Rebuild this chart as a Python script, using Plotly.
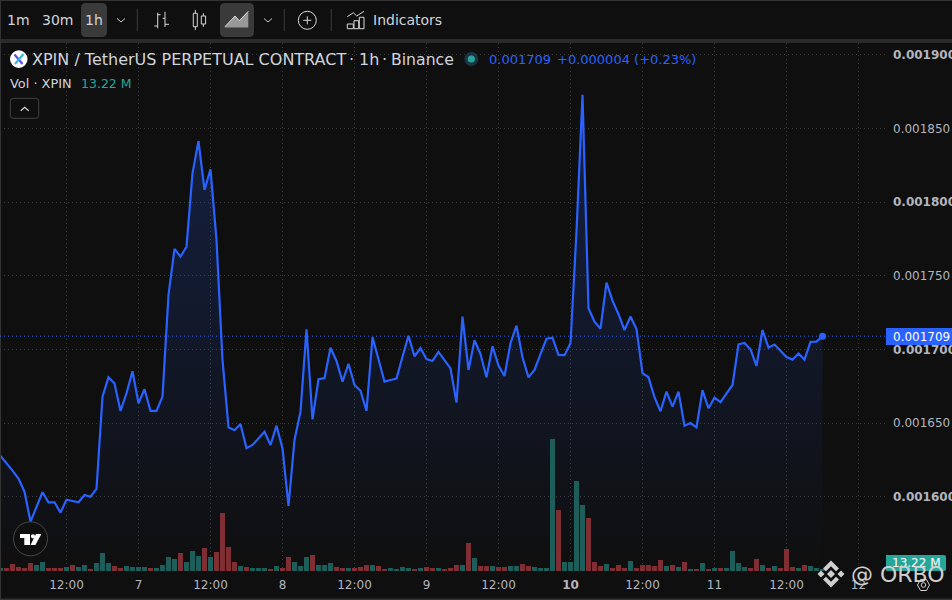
import pandas as pd
import plotly.graph_objects as go

W, H = 952, 600
BG = "#0f0f0f"
TXT = "#d1d4dc"
TICK = "#b2b5be"
BLUE = "#2962ff"
GRID = "#3d3d3d"
GREEN = "#1d5d5a"
RED = "#7f2f33"

start_time = "2025-10-06 01:00"
price = [
    0.0016278, 0.0016230, 0.0016178, 0.0016124, 0.0016035, 0.0015832, 0.0015932, 0.0016031, 0.0015963, 0.0015963,
    0.0015893, 0.0015981, 0.0015972, 0.0015963, 0.0016013, 0.0016001, 0.0016054, 0.0016680, 0.0016811, 0.0016771,
    0.0016583, 0.0016703, 0.0016852, 0.0016635, 0.0016730, 0.0016583, 0.0016583, 0.0016680, 0.0017370, 0.0017682,
    0.0017630, 0.0017697, 0.0018195, 0.0018414, 0.0018082, 0.0018222, 0.0017743, 0.0016929, 0.0016472, 0.0016452,
    0.0016495, 0.0016330, 0.0016352, 0.0016398, 0.0016442, 0.0016352, 0.0016483, 0.0016330, 0.0015938, 0.0016386,
    0.0016578, 0.0017137, 0.0016526, 0.0016798, 0.0016805, 0.0017012, 0.0016922, 0.0016782, 0.0016902, 0.0016759,
    0.0016720, 0.0016583, 0.0017083, 0.0016934, 0.0016782, 0.0016793, 0.0016802, 0.0016951, 0.0017092, 0.0016954,
    0.0017010, 0.0016934, 0.0016922, 0.0016983, 0.0016929, 0.0016872, 0.0016639, 0.0017223, 0.0016861, 0.0017062,
    0.0016969, 0.0016811, 0.0017022, 0.0016890, 0.0016820, 0.0017042, 0.0017161, 0.0016947, 0.0016811, 0.0016861,
    0.0016969, 0.0017073, 0.0017080, 0.0016963, 0.0016961, 0.0017042, 0.0017800, 0.0018727, 0.0017280, 0.0017189,
    0.0017141, 0.0017453, 0.0017331, 0.0017239, 0.0017132, 0.0017223, 0.0017139, 0.0016839, 0.0016811, 0.0016676,
    0.0016581, 0.0016714, 0.0016612, 0.0016714, 0.0016483, 0.0016501, 0.0016472, 0.0016723, 0.0016601, 0.0016673,
    0.0016642, 0.0016703, 0.0016759, 0.0017035, 0.0017044, 0.0017001, 0.0016888, 0.0017132, 0.0017012, 0.0017033,
    0.0016990, 0.0016949, 0.0016931, 0.0016972, 0.0016931, 0.0017051, 0.0017053, 0.0017090,
]
volume_m = [
    20, 20, 46, 26, 20, 53, 40, 59, 20, 20,
    20, 26, 40, 26, 40, 13, 53, 119, 53, 33,
    20, 33, 26, 26, 26, 20, 20, 40, 92, 79,
    119, 59, 132, 99, 152, 92, 125, 383, 158, 59,
    33, 26, 20, 20, 20, 13, 33, 20, 92, 59,
    33, 92, 106, 40, 40, 53, 26, 20, 20, 20,
    26, 40, 40, 33, 13, 20, 13, 26, 20, 13,
    20, 26, 20, 20, 13, 20, 40, 40, 185, 86,
    33, 33, 33, 26, 26, 33, 33, 46, 33, 26,
    20, 20, 871, 403, 59, 59, 594, 436, 350, 59,
    33, 46, 20, 40, 20, 66, 20, 40, 40, 33,
    73, 33, 40, 26, 59, 13, 13, 53, 13, 20,
    20, 20, 132, 53, 26, 20, 79, 40, 20, 33,
    20, 145, 26, 20, 40, 33, 20, 13.22,
]
bar_side = list(
    "grrrrrggrr"
    "rgrggrgggr"
    "rggggrgggg"
    "rgggrgrrrr"
    "grgggrgrrg"
    "ggrgggrrgr"
    "rrgrrggggr"
    "grrgrrrgrg"
    "rrgrrggrrg"
    "gggrggggrr"
    "rgrrrgrrrr"
    "rgrgrgrgrg"
    "rggggrrgrg"
    "rrrgrggg"
)
x_tick_hours = [11, 23, 35, 47, 59, 71, 83, 95, 107, 119, 131, 143]
x_tick_text = ["12:00", "7", "12:00", "8", "12:00", "9", "12:00", "<b>10</b>", "12:00", "11", "12:00", "12"]
y_ticks = [0.0016, 0.00165, 0.0017, 0.00175, 0.0018, 0.00185, 0.0019]
y_tick_text = ["<b>0.001600</b>", "0.001650", "<b>0.001700</b>", "0.001750", "<b>0.001800</b>", "0.001850", "<b>0.001900</b>"]
last_price_text = "0.001709"
last_volume_text = "13.22 M"

t0 = pd.Timestamp(start_time)
times = pd.date_range(t0, periods=len(price), freq="h")
hour = pd.Timedelta(hours=1)
x_ticks = [t0 + h * hour for h in x_tick_hours]
x_range = [t0 - hour * (0.5 / 6), t0 + hour * (884.5 / 6)]

PANE_R, PANE_T, PANE_B = 885, 43, 571
Y_BOTTOM, Y_TOP = 0.0015497, 0.0019079


def px(x):
    return x / W


def py(y):
    return 1 - y / H


shapes = []


def rect(x0, y0, x1, y1, fill=None, line=None, lw=1):
    shapes.append(dict(type="rect", xref="paper", yref="paper", x0=px(x0), x1=px(x1), y0=py(y0), y1=py(y1),
                       fillcolor=fill or "rgba(0,0,0,0)", line=dict(color=line or "rgba(0,0,0,0)", width=lw if line else 0)))


def rrect(x0, y0, x1, y1, r, fill=None, line=None, lw=1, corners=(1, 1, 1, 1)):
    c = [r * k for k in corners]
    d = (f"M{px(x0 + c[0])},{py(y0)} L{px(x1 - c[1])},{py(y0)} Q{px(x1)},{py(y0)} {px(x1)},{py(y0 + c[1])} "
         f"L{px(x1)},{py(y1 - c[2])} Q{px(x1)},{py(y1)} {px(x1 - c[2])},{py(y1)} "
         f"L{px(x0 + c[3])},{py(y1)} Q{px(x0)},{py(y1)} {px(x0)},{py(y1 - c[3])} "
         f"L{px(x0)},{py(y0 + c[0])} Q{px(x0)},{py(y0)} {px(x0 + c[0])},{py(y0)} Z")
    shapes.append(dict(type="path", xref="paper", yref="paper", path=d, fillcolor=fill or "rgba(0,0,0,0)",
                       line=dict(color=line or "rgba(0,0,0,0)", width=lw if line else 0)))


def poly(points, fill=None, line=None, lw=1, close=True):
    d = "M" + " L".join(f"{px(x)},{py(y)}" for x, y in points) + (" Z" if close else "")
    shapes.append(dict(type="path", xref="paper", yref="paper", path=d, fillcolor=fill or "rgba(0,0,0,0)",
                       line=dict(color=line or "rgba(0,0,0,0)", width=lw if line else 0)))


def seg(points, color, lw=1.0):
    poly(points, None, color, lw, close=False)


def circle(cx, cy, r, fill=None, line=None, lw=1):
    shapes.append(dict(type="circle", xref="paper", yref="paper", x0=px(cx - r), x1=px(cx + r), y0=py(cy - r), y1=py(cy + r),
                       fillcolor=fill or "rgba(0,0,0,0)", line=dict(color=line or "rgba(0,0,0,0)", width=lw if line else 0)))


annots = []


def txt(x, y, s, size, color, anchor="left"):
    annots.append(dict(xref="paper", yref="paper", x=px(x), y=py(y), text=s, showarrow=False, xanchor=anchor, yanchor="middle",
                       borderpad=0, borderwidth=0, font=dict(size=size, color=color, family="DejaVu Sans")))


# frame and toolbar
rect(0, 0, W, 39, BG)
rect(0, 39, W, 43, "#2a2a2a")
rect(0, 0, W, 1, "#333333")
rect(0, 0, 1, H, "#333333")
rect(0, 598.5, W, 600, "#333333")
rrect(81, 3, 107, 37, 5, "#3a3a3a")
rrect(220, 3, 254, 37, 5, "#3a3a3a")
for xs in (137.3, 284.3, 331.3):
    seg([(xs, 9), (xs, 31)], "#3a3a3a", 1)
ICON = "#d8d8d8"
for cx in (121, 268):
    seg([(cx - 4, 18.5), (cx, 22), (cx + 4, 18.5)], "#c8c8c8", 1)
# bar style icon
seg([(157.7, 12.7), (157.7, 28.3)], ICON)
seg([(154.3, 26), (157.7, 26)], ICON)
seg([(157.7, 14.7), (160.5, 14.7)], ICON)
seg([(165, 11.7), (165, 27)], ICON)
seg([(162.7, 18.3), (165, 18.3)], ICON)
seg([(165, 24.3), (169, 24.3)], ICON)
# candle icon
seg([(195.3, 10), (195.3, 30)], ICON)
rect(193.3, 13.3, 197.3, 26.7, BG, ICON, 1)
seg([(203.3, 13.3), (203.3, 26.7)], ICON)
rect(201.3, 16, 205.6, 24, BG, ICON, 1)
# area icon
poly([(225, 27.5), (225, 26.7), (235, 16), (239.3, 20.7), (248.3, 11.3), (248.3, 27.5)], "rgba(215,215,215,0.6)")
seg([(225, 26.7), (235, 16), (239.3, 20.7), (248.3, 11.3)], "#e0e0e0", 1)
# plus icon
circle(307.3, 20.3, 9, None, ICON, 1)
seg([(303.3, 20.3), (311.3, 20.3)], ICON)
seg([(307.3, 16.3), (307.3, 24.3)], ICON)
# indicators icon
seg([(347.3, 16.7), (353.3, 12.7), (356.7, 16), (364, 11.3)], ICON)
rect(347.3, 24, 353.3, 28.7, None, ICON, 1)
rect(354, 20.7, 358.7, 28.7, None, ICON, 1)
rect(359.3, 17.3, 364, 28.7, None, ICON, 1)

# legend decorations
circle(18.8, 59.1, 8.8, "#ffffff")
seg([(14.5, 54.5), (22.5, 64)], "#5b4df0", 2.2)
seg([(23.5, 54), (15, 64)], "#36b6d8", 2)
circle(471.3, 59, 7, "#1b3344")
circle(471.3, 59, 3.6, "#26a69a")
rrect(10.3, 98.3, 38.7, 118.3, 3, BG, "#434343", 1)
seg([(20.7, 110.7), (24.7, 107.3), (28.7, 110.7)], "#d8d8d8", 1.2)

# price line
shapes.append(dict(type="line", xref="paper", yref="y", x0=0, x1=px(PANE_R), y0=price[-1], y1=price[-1],
                   line=dict(color=BLUE, width=1, dash="1px,3px")))
rect(886, 328, W, 345, BLUE)
txt(921, 336.6, last_price_text, 12, "#ffffff", "center")

# volume label
rrect(886, 555, 946, 571, 2, "#26a69a", corners=(0, 1, 1, 0))
txt(916, 563, last_volume_text, 12, "#ffffff", "center")

# TradingView badge
circle(30.5, 538.8, 17, BG, "#474747", 1)
poly([(20, 534), (30, 534), (30, 545), (24.3, 545), (24.3, 538), (20, 538)], "#ffffff")
circle(33, 536.3, 2.1, "#ffffff")
poly([(36, 534), (41.4, 534), (35.4, 545), (30.5, 545)], "#ffffff")

# settings hexagon
poly([(917.5, 585), (920.5, 579.5), (926.5, 579.5), (929.5, 585), (926.5, 590.5), (920.5, 590.5)], None, "#cfcfcf", 1)
circle(923.5, 585, 2.3, None, "#cfcfcf", 1)

# watermark logo
WM = "#cfcfcf"
cx, cy = 831, 574
poly([(cx, cy - 4), (cx + 4, cy), (cx, cy + 4), (cx - 4, cy)], WM)
poly([(cx - 13.5, cy), (cx - 10, cy - 3.5), (cx - 6.5, cy), (cx - 10, cy + 3.5)], WM)
poly([(cx + 13.5, cy), (cx + 10, cy - 3.5), (cx + 6.5, cy), (cx + 10, cy + 3.5)], WM)
poly([(cx, cy - 13.5), (cx + 8, cy - 5.5), (cx + 5, cy - 2.8), (cx, cy - 7.8), (cx - 5, cy - 2.8), (cx - 8, cy - 5.5)], WM)
poly([(cx, cy + 13.5), (cx + 8, cy + 5.5), (cx + 5, cy + 2.8), (cx, cy + 7.8), (cx - 5, cy + 2.8), (cx - 8, cy + 5.5)], WM)

# texts
txt(7, 20, "1m", 14, TXT)
txt(41.5, 20, "30m", 14, TXT)
txt(85, 20, "1h", 14, TXT)
txt(373, 20, "Indicators", 14, TXT)
txt(32, 59.5, "XPIN / TetherUS PERPETUAL CONTRACT", 16, TXT)
txt(351.7, 59.5, "·", 16, TXT, "center")
txt(358.5, 59.5, "1h", 16, TXT)
txt(384, 59.5, "·", 16, TXT, "center")
txt(391, 59.5, "Binance", 15.7, TXT)
txt(489, 59.5, "0.001709", 13, BLUE)
txt(557, 59.5, "+0.000004 (+0.23%)", 13, BLUE)
txt(10, 83.5, "Vol · XPIN", 12.9, TXT)
txt(81, 83.5, last_volume_text, 12.5, "#26a69a")
txt(850.5, 574.5, "@ ORBO", 22, "#d0d0d0")

fig = go.Figure()
fig.add_trace(go.Scatter(
    x=times, y=price, mode="lines", yaxis="y", line=dict(color=BLUE, width=2.2, shape="linear"),
    fill="tozeroy", fillcolor="rgba(41,98,255,0.12)",
    fillgradient=dict(type="vertical", start=Y_BOTTOM, stop=max(price),
                      colorscale=[[0, "rgba(41,98,255,0)"], [1, "rgba(41,98,255,0.22)"]]),
    hoverinfo="skip", showlegend=False,
))
fig.add_trace(go.Scatter(x=times[-1:], y=price[-1:], mode="markers", yaxis="y", marker=dict(color=BLUE, size=7),
                         hoverinfo="skip", showlegend=False))
fig.add_trace(go.Bar(
    x=times, y=volume_m, yaxis="y2", width=3.0e6,
    marker=dict(color=[GREEN if s == "g" else RED for s in bar_side], line=dict(width=0)),
    hoverinfo="skip", showlegend=False,
))

fig.update_layout(
    width=W, height=H, autosize=False,
    margin=dict(l=0, r=0, t=0, b=0, pad=0, autoexpand=False),
    paper_bgcolor=BG, plot_bgcolor=BG,
    font=dict(family="DejaVu Sans", color=TICK, size=12),
    showlegend=False, bargap=0,
    xaxis=dict(type="date", domain=[0, px(PANE_R)], range=x_range, tickmode="array", tickvals=x_ticks, ticktext=x_tick_text,
               showgrid=True, gridcolor=GRID, griddash="1px,3px", gridwidth=1, zeroline=False, showline=False, ticks="",
               tickfont=dict(size=12, color=TICK), ticklabelstandoff=5, anchor="y", fixedrange=True, tickangle=0, automargin=False),
    yaxis=dict(domain=[py(PANE_B), py(PANE_T)], range=[Y_BOTTOM, Y_TOP], tickmode="array", tickvals=y_ticks, ticktext=y_tick_text,
               side="right", anchor="free", position=px(PANE_R), showgrid=True, gridcolor=GRID, griddash="1px,3px", gridwidth=1,
               zeroline=False, showline=False, ticks="", tickfont=dict(size=12, color=TICK), ticklabelstandoff=7, fixedrange=True, automargin=False),
    yaxis2=dict(domain=[py(PANE_B), py(PANE_T)], range=[0, 3490], overlaying="y", visible=False, fixedrange=True),
    shapes=shapes, annotations=annots,
)
fig.write_html("out.html", config=dict(displayModeBar=False),
               post_script="document.body.style.margin='0';document.body.style.background='#0f0f0f';document.documentElement.style.overflow='hidden';")
